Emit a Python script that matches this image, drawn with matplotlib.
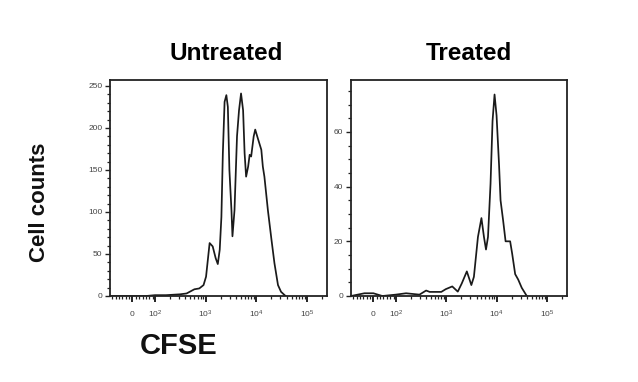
import numpy as np
import matplotlib
matplotlib.use("Agg")
import matplotlib.pyplot as plt
from matplotlib.ticker import FixedLocator, MultipleLocator

plt.rcParams['font.family'] = ['Liberation Sans', 'DejaVu Sans']
plt.rcParams['mathtext.default'] = 'regular'

# CFSE histogram traces (fluorescence value, cell count)
untreated_x = [-100, 0, 60, 100, 165, 310, 420, 600, 750, 910, 1020,
               1200, 1380, 1580, 1740, 1900, 2050, 2190, 2370, 2570, 2750,
               2950, 3240, 3390, 3720, 4170, 4570, 5010, 5500, 5890, 6310,
               6920, 7410, 7940, 8910, 9550, 10700, 12600, 13500, 14500,
               17000, 20000, 22900, 26900, 30900, 38000]
untreated_y = [0, 0, 0, 1, 1, 2, 3, 8, 9, 13, 23,
               63, 59, 45, 38, 55, 94, 170, 231, 239, 225,
               150, 102, 71, 102, 190, 221, 241, 221, 170, 142,
               154, 168, 166, 190, 198, 188, 174, 154, 142,
               102, 67, 39, 13, 5, 0]

treated_x = [-100, -40, 0, 40, 100, 160, 295, 400, 470, 590, 800, 980,
             1320, 1700, 2040, 2570, 3160, 3550, 4270, 5010, 5620, 6170,
             6760, 7590, 8320, 9120, 10000, 11200, 12000, 13500, 15100,
             18600, 20400, 23400, 26900, 31600, 39800]
treated_y = [0, 1, 1, 0, 0.5, 1, 0.5, 2, 1.5, 1.5, 1.5, 2.5,
             3.5, 1.6, 4.6, 9, 4, 7, 21.6, 28.5, 21.6, 17,
             21.6, 41, 64, 73.7, 66, 48, 35, 27.6, 20,
             20, 15.5, 8, 6, 3, 0]

panels = [("Untreated", untreated_x, untreated_y, 257, [0, 50, 100, 150, 200, 250], 10),
          ("Treated", treated_x, treated_y, 79, [0, 20, 40, 60], 5)]

xticks = [0, 1e2, 1e3, 1e4, 1e5]
xticklabels = ["$0$", "$10^{2}$", "$10^{3}$", "$10^{4}$", "$10^{5}$"]
xminor = [-90, -75, -60, -45, -30, -15, 15, 30, 45, 60, 75, 90]
for k in range(2, 5):
    xminor += [m * 10 ** k for m in range(2, 10)]
xminor += [2e5]

fig = plt.figure(figsize=(6.38, 3.82), dpi=100)
W, H = 638, 382
boxes = [(110, 80, 327, 296), (351, 80, 567, 296)]
title_x = [226, 469]

for (title, xs, ys, ymax, yticks, ymin_step), (x0, y0, x1, y1), tx in zip(panels, boxes, title_x):
    ax = fig.add_axes([x0 / W, 1 - y1 / H, (x1 - x0) / W, (y1 - y0) / H])
    ax.plot(xs, ys, color='#1a1a1a', lw=1.25)
    ax.set_xscale('symlog', linthresh=100, linscale=0.4)
    ax.set_xlim(-100, 2.5e5)
    ax.set_ylim(0, ymax)
    ax.xaxis.set_major_locator(FixedLocator(xticks))
    ax.set_xticklabels(xticklabels)
    ax.xaxis.set_minor_locator(FixedLocator(xminor))
    ax.set_yticks(yticks)
    ax.yaxis.set_minor_locator(MultipleLocator(ymin_step))
    ax.tick_params(axis='both', which='major', labelsize=6, labelcolor='#444444',
                   length=3.5, width=1.0, color='#222222', direction='out', pad=2)
    ax.tick_params(axis='x', which='major', length=4.5, width=1.4, pad=5)
    ax.tick_params(axis='both', which='minor', length=2.2, width=0.9, color='#222222',
                   direction='out')
    for sp in ax.spines.values():
        sp.set_linewidth(1.3)
        sp.set_color('#222222')
    fig.text(tx / W, 1 - 54 / H, title, ha='center', va='center',
             fontsize=17.5, fontweight='bold')

fig.text(40 / W, 1 - 202 / H, "Cell counts", rotation=90, ha='center', va='center',
         fontsize=16, fontweight='bold', color='#111111')
fig.text(179 / W, 1 - 346 / H, "CFSE", ha='center', va='center',
         fontsize=21, fontweight='bold', color='#111111')

fig.savefig("out.png", dpi=100)
